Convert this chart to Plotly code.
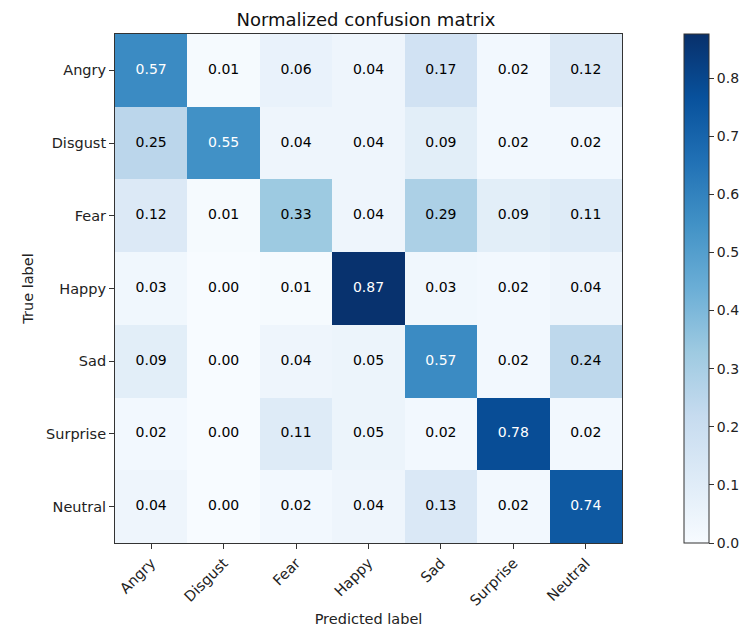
import plotly.graph_objects as go

classes = ["Angry", "Disgust", "Fear", "Happy", "Sad", "Surprise", "Neutral"]
angry    = [0.57, 0.01, 0.06, 0.04, 0.17, 0.02, 0.12]
disgust  = [0.25, 0.55, 0.04, 0.04, 0.09, 0.02, 0.02]
fear     = [0.12, 0.01, 0.33, 0.04, 0.29, 0.09, 0.11]
happy    = [0.03, 0.00, 0.01, 0.87, 0.03, 0.02, 0.04]
sad      = [0.09, 0.00, 0.04, 0.05, 0.57, 0.02, 0.24]
surprise = [0.02, 0.00, 0.11, 0.05, 0.02, 0.78, 0.02]
neutral  = [0.04, 0.00, 0.02, 0.04, 0.13, 0.02, 0.74]
matrix = [angry, disgust, fear, happy, sad, surprise, neutral]
cbar_ticks = [0.0, 0.1, 0.2, 0.3, 0.4, 0.5, 0.6, 0.7, 0.8]

blues = ["#f7fbff", "#deebf7", "#c6dbef", "#9ecae1", "#6baed6",
         "#4292c6", "#2171b5", "#08519c", "#08306b"]
colorscale = [[i / (len(blues) - 1), c] for i, c in enumerate(blues)]

FONT = "DejaVu Sans"
zmax = 0.876
thresh = max(max(r) for r in matrix) / 2

W, H = 744, 626

fig = go.Figure()
fig.add_trace(go.Heatmap(
    z=matrix, x=classes, y=classes, zmin=0, zmax=zmax,
    colorscale=colorscale, hoverinfo="skip",
    colorbar=dict(
        x=1.122, xanchor="left", xref="paper", y=0.5, yanchor="middle",
        len=1.0, lenmode="fraction", thickness=25, ypad=0, xpad=0,
        outlinewidth=1, outlinecolor="#333",
        tickvals=cbar_ticks,
        tickformat=".1f", ticks="outside", ticklen=5, tickcolor="#333",
        tickfont=dict(family=FONT, size=14, color="#222"),
    ),
))

xs, ys, txt, cols = [], [], [], []
for i, row in enumerate(matrix):
    for j, v in enumerate(row):
        xs.append(classes[j]); ys.append(classes[i])
        txt.append(f"{v:.2f}")
        cols.append("white" if v > thresh else "black")
fig.add_trace(go.Scatter(
    x=xs, y=ys, mode="text", text=txt,
    textfont=dict(family=FONT, size=14, color=cols),
    hoverinfo="skip", showlegend=False,
))

axis_common = dict(
    showgrid=False, zeroline=False, showline=True, linecolor="#333",
    linewidth=1, mirror=True, ticks="outside", ticklen=5, tickcolor="#333",
    tickfont=dict(family=FONT, size=14.5, color="#222"),
    automargin=False,
)
fig.update_xaxes(**axis_common, tickangle=-45,
                 title=dict(text="Predicted label", font=dict(family=FONT, size=14.5, color="#222"), standoff=6),
                 range=[-0.5, 6.5])
fig.update_yaxes(**axis_common, autorange=False, range=[6.5, -0.5],
                 title=dict(text="True label", font=dict(family=FONT, size=14.5, color="#222"), standoff=8))

fig.update_layout(
    width=W, height=H,
    margin=dict(l=107, r=130, t=26, b=91, autoexpand=False),
    plot_bgcolor="white", paper_bgcolor="white",
    title=dict(text="Normalized confusion matrix", x=(366 - 8) / W, xanchor="center",
               xref="paper", y=1 - 12 / H, yanchor="middle",
               font=dict(family=FONT, size=18, color="#111")),
    showlegend=False,
)
fig.update_layout(title_xref="container")

fig.write_html("out.html")
